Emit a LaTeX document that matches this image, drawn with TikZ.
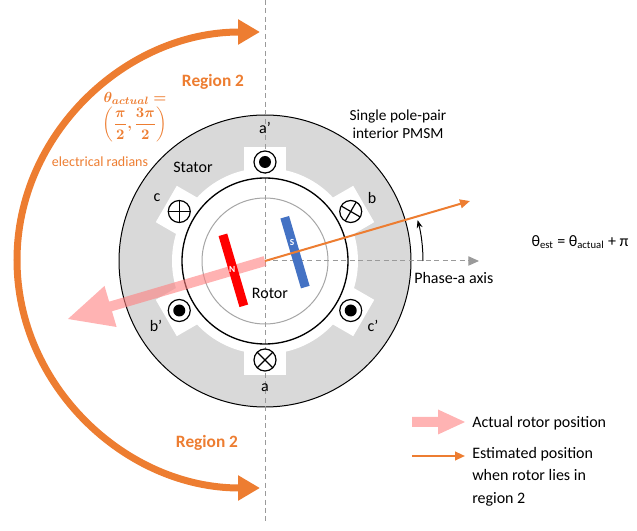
\documentclass[tikz,border=0pt]{standalone}
\usepackage{amsmath}
\usepackage{bm}
\usepackage{fontspec}
\setmainfont{Carlito}
\usetikzlibrary{arrows.meta,calc}
\definecolor{orng}{HTML}{ED7D31}
\definecolor{statorgrey}{HTML}{D9D9D9}
\definecolor{magblue}{HTML}{4472C4}
\definecolor{pinkarrow}{HTML}{FF8080}
\definecolor{dashgrey}{HTML}{A6A6A6}
\definecolor{axisgrey}{HTML}{9A9A9A}
\begin{document}
\begin{tikzpicture}[x=0.75pt,y=0.75pt,
  lbl/.style={inner sep=0pt, font=\fontsize{12}{14}\selectfont},
  smalllbl/.style={inner sep=0pt, font=\fontsize{11.5}{14}\selectfont},
  regionlbl/.style={inner sep=0pt, text=orng, font=\fontsize{13}{15}\selectfont\bfseries},
  axisdash/.style={draw=axisgrey, line width=0.75pt, dash pattern=on 3.75pt off 2.6pt},
  coilring/.style={draw=black, fill=white, line width=0.9pt},
  pinkfill/.style={fill=pinkarrow, fill opacity=0.6},
  estline/.style={draw=orng, line width=1.5pt, -{Triangle[length=7.5pt,width=6.5pt]}},
  bigarc/.style={draw=orng, line width=5.25pt, {Triangle[length=16.5pt,width=18pt]}-{Triangle[length=16.5pt,width=18pt]}}
]
\useasboundingbox (0,0) rectangle (637,-531);
\coordinate (O) at (265,-261);

% stator
\begin{scope}[shift={(265,-261)}]
  \fill[statorgrey] (0,0) circle[radius=146];
  \fill[white] (0,0) circle[radius=93];
  \foreach \a in {90,30,150,210,270,330}
    \fill[white,rotate=\a] (80,-21) rectangle (114,21);
  \draw[line width=0.75pt] (0,0) circle[radius=146];
\end{scope}

% axes
\draw[axisdash] (265,0) -- (265,-521);
\coordinate (axisend) at (479,-261);
\draw[axisdash, -{Triangle[length=8pt,width=7pt,fill=axisgrey]}] (O) -- (axisend);

\begin{scope}[shift={(265,-261)}]
  % rotor
  \draw[line width=1pt] (0,0) circle[radius=83];
  \draw[draw=dashgrey, line width=0.75pt] (0,0) circle[radius=63];
  % coils with dots
  \foreach \a in {90,210,330} {
    \draw[coilring] (\a:99) circle[radius=11];
    \fill[black] (\a:99) circle[radius=6];
  }
  % coils with crosses
  \foreach \a/\r in {270/45,30/-30,150/0} {
    \draw[coilring] (\a:99) circle[radius=11];
    \draw[line width=0.9pt] ($(\a:99)+(\r:11)$) -- ($(\a:99)+(\r+180:11)$);
    \draw[line width=0.9pt] ($(\a:99)+(\r+90:11)$) -- ($(\a:99)+(\r+270:11)$);
  }
\end{scope}

% actual rotor position (pink)
\begin{scope}[shift={(265,-261)}, rotate=196.4]
  \fill[pinkfill] (0,-5) -- (161,-5) -- (161,-21.4) -- (205.4,0) -- (161,21.4) -- (161,5) -- (0,5) -- cycle;
\end{scope}

% magnets
\begin{scope}[shift={(265,-261)}, rotate=16.4]
  \fill[red] (-37.5,-37) rectangle (-28.5,37);
  \fill[magblue] (26.8,-36.4) rectangle (35.8,36.4);
  \node[inner sep=0pt, text=white, font=\fontsize{7}{8}\selectfont\bfseries] (magN) at (-34,0.7) {N};
  \node[inner sep=0pt, text=white, font=\fontsize{7}{8}\selectfont\bfseries] (magS) at (31,9.7) {S};
\end{scope}

% estimated position
\coordinate (est) at (470,-201);
\draw[estline] (O) -- (est);

% phase-a angle
\draw[line width=0.75pt, -{Stealth[length=6pt,width=4.5pt]}] (423,-261) arc[start angle=0,end angle=15,radius=158];

% big region arc
\coordinate (arcbot) at (260,-488);
\draw[bigarc] (arcbot) arc[start angle=270,end angle=90,x radius=243,y radius=228];

% labels
\node[lbl] (lap) at (265,-128) {a’};
\node[lbl] (lb) at (372,-198) {b};
\node[lbl] (lc) at (157,-198) {c};
\node[lbl] (lbp) at (156,-326) {b’};
\node[lbl] (lcp) at (373,-326) {c’};
\node[lbl] (la) at (265,-388) {a};
\node[lbl] (stator) at (193,-167) {Stator};
\node[lbl] (rotor) at (270,-293) {Rotor};
\node[smalllbl, align=center, font=\fontsize{11.5}{13.5}\selectfont] (pmsm) at (398,-124) {Single pole-pair\\interior PMSM};
\node[lbl, anchor=west] (phasea) at (414,-278) {Phase-a axis};
\node[lbl] (formula) at (580,-242) {θ\textsubscript{est} = θ\textsubscript{actual} + π};

\node[regionlbl] (reg2top) at (213,-82) {Region 2};
\node[regionlbl] (reg2bot) at (207,-443) {Region 2};
\node[inner sep=0pt, align=center, text=orng, font=\fontsize{11}{13}\selectfont] (thetaact) at (135,-117) {$\bm{\theta_{actual}=}$\\[1pt]$\bm{\left(\dfrac{\pi}{2},\dfrac{3\pi}{2}\right)}$};
\node[inner sep=0pt, text=orng, font=\fontsize{10.5}{12}\selectfont] (elrad) at (100,-162) {electrical radians};

% legend
\fill[pinkfill] (412,-417) -- (438,-417) -- (438,-409.5) -- (465,-422) -- (438,-434.5) -- (438,-427) -- (412,-427) -- cycle;
\node[lbl, anchor=west] (leg1) at (472,-423) {Actual rotor position};
\coordinate (legA) at (412,-456);
\coordinate (legB) at (465,-456);
\draw[estline] (legA) -- (legB);
\node[lbl, anchor=north west, align=left, font=\fontsize{12}{16.9}\selectfont] (leg2) at (472,-447) {Estimated position\\when rotor lies in\\region 2};
\end{tikzpicture}
\end{document}
